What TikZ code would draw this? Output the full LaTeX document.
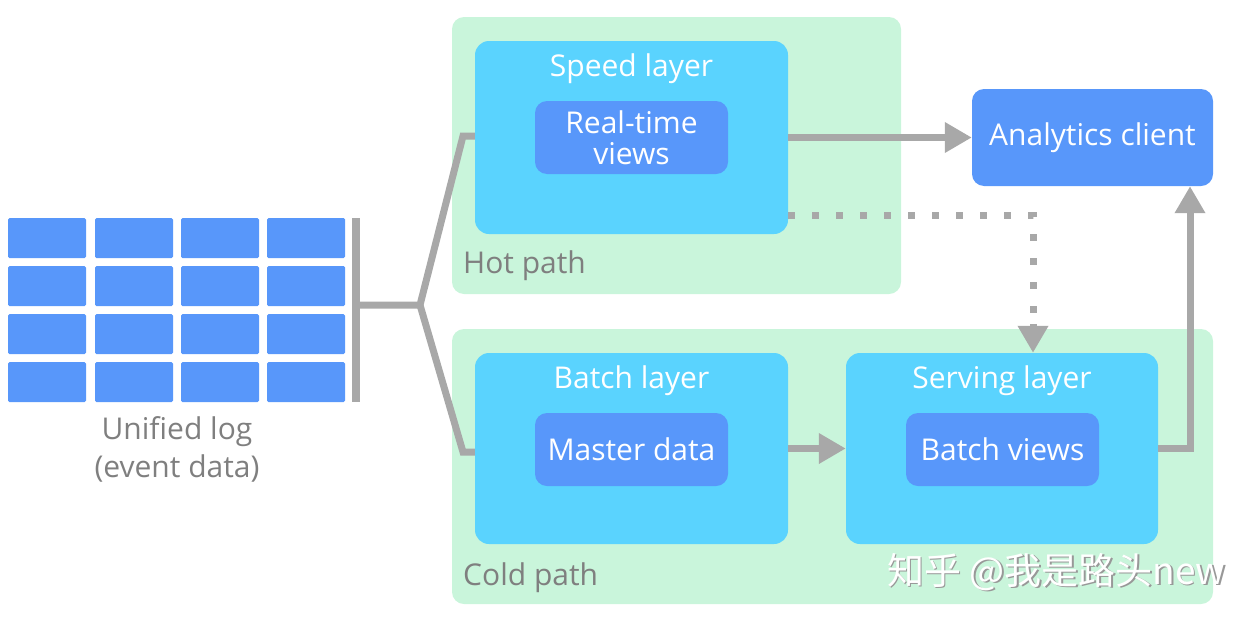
\documentclass[tikz,border=0pt]{standalone}
\usepackage{fontspec}
\setmainfont{Open Sans}
\newfontfamily\cjk{Noto Sans CJK SC}
\usetikzlibrary{arrows.meta,calc}
\definecolor{pathgreen}{HTML}{C9F5DB}
\definecolor{layercyan}{HTML}{5AD3FE}
\definecolor{viewblue}{HTML}{5897FA}
\definecolor{conngray}{HTML}{A8A8A8}
\definecolor{labelgray}{HTML}{7F7F7F}
\tikzset{
  pathbox/.style={fill=pathgreen, draw=none, rounded corners=12pt, inner sep=0pt},
  layerbox/.style={fill=layercyan, draw=none, rounded corners=14pt, inner sep=0pt},
  viewbox/.style={fill=viewblue, draw=none, rounded corners=12pt, inner sep=0pt, text=white, font=\fontsize{30}{31}\selectfont, align=center},
  title/.style={text=white, font=\fontsize{30}{31}\selectfont, inner sep=0pt},
  pathlabel/.style={text=labelgray, font=\fontsize{30}{31}\selectfont, inner sep=0pt, anchor=west},
  cell/.style={fill=viewblue, draw=none, rounded corners=1.5pt, minimum width=78pt, minimum height=40pt, inner sep=0pt},
  conn/.style={draw=conngray, line width=7pt, line join=miter},
  arr/.style={conn, -{Triangle[length=27pt,width=29pt]}},
  dotted conn/.style={conn, dash pattern=on 7pt off 17pt},
}
\begin{document}
\begin{tikzpicture}[x=1pt,y=-1pt]
\useasboundingbox (0,0) rectangle (1260,624);
% path containers
\node[pathbox, minimum width=449pt, minimum height=277pt] (hot) at (676.5,155.5) {};
\node[pathbox, minimum width=761pt, minimum height=275pt] (cold) at (832.5,466.5) {};
\node[pathlabel] (hotlbl) at (463,266) {Hot path};
\node[pathlabel] (coldlbl) at (463,578) {Cold path};
% layers
\node[layerbox, minimum width=313pt, minimum height=193pt] (speed) at (631.5,137.5) {};
\node[layerbox, minimum width=313pt, minimum height=191pt] (batch) at (631.5,448.5) {};
\node[layerbox, minimum width=312pt, minimum height=191pt] (serving) at (1002,448.5) {};
\node[title] (speedt) at (631.5,69) {Speed layer};
\node[title] (batcht) at (631.5,381) {Batch layer};
\node[title] (servingt) at (1002,381) {Serving layer};
\node[viewbox, minimum width=193pt, minimum height=73pt] (rt) at (631.5,137.5) {Real-time\\views};
\node[viewbox, minimum width=193pt, minimum height=73pt] (master) at (631.5,449.5) {Master data};
\node[viewbox, minimum width=193pt, minimum height=73pt] (bviews) at (1002.5,449.5) {Batch views};
\node[viewbox, minimum width=241pt, minimum height=97pt] (client) at (1092.5,137.5) {Analytics client};
% unified log grid
\foreach \c [count=\i] in {47,134,220,306}{
  \foreach \r [count=\j] in {238,286,334,382}{
    \node[cell] (cell\i\j) at (\c,\r) {};
  }
}
\node[fill=conngray, minimum width=8pt, minimum height=184pt, inner sep=0pt] (bar) at (356,310) {};
\node[text=labelgray, font=\fontsize{30}{38}\selectfont, align=center, inner sep=0pt] (loglbl) at (177,449) {Unified log\\(event data)};
% connectors
\coordinate (split) at (420,305);
\coordinate (upbend) at (463,136);
\coordinate (lowbend) at (463,452);
\draw[conn] (bar.east |- split) -- (split) -- (upbend) -- (speed.west |- upbend);
\draw[conn] (split) -- (lowbend) -- (batch.west |- lowbend);
\draw[arr] (speed.east |- client.west) -- (client.west);
\draw[arr] (batch.east) -- (serving.west);
\coordinate (d0) at (788,215);
\coordinate (d1) at (1033,215);
\draw[dotted conn] (d0) -- (d1) -- ($(d1 |- serving.north)+(0,-28)$);
\draw[arr] ($(d1 |- serving.north)+(0,-29)$) -- (d1 |- serving.north);
\coordinate (rise) at (1190,448.5);
\draw[arr] (serving.east) -- (rise) -- (rise |- client.south);
% watermark
\node[text=labelgray!80, font=\cjk\fontsize{37}{40}\selectfont, inner sep=0pt] (wmshadow) at (1058,573.5) {知乎 @我是路头new};
\node[text=white, font=\cjk\fontsize{37}{40}\selectfont, inner sep=0pt] (wm) at (1056.5,572) {知乎 @我是路头new};
\end{tikzpicture}
\end{document}
